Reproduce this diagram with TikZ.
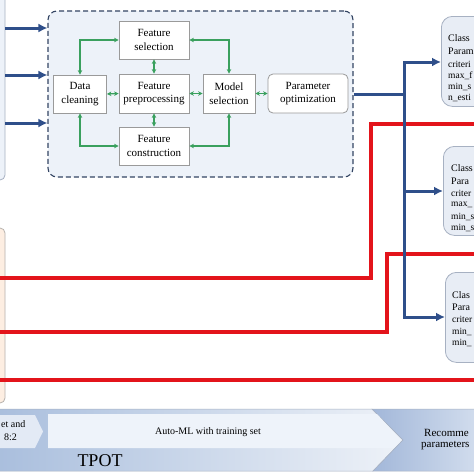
\documentclass[tikz,border=0pt]{standalone}
\usepackage{fontspec}
\setmainfont{Liberation Serif}
\usetikzlibrary{arrows.meta,calc}
\definecolor{bline}{HTML}{2F4F8A}
\definecolor{gline}{HTML}{3AA05E}
\definecolor{rline}{HTML}{E3141B}
\definecolor{dashfill}{HTML}{EDF2F9}
\definecolor{dashdraw}{HTML}{344563}
\definecolor{boxdraw}{HTML}{9A9A9A}
\definecolor{clsfill}{HTML}{E8EDF5}
\definecolor{clsdraw}{HTML}{A7B1C2}
\definecolor{orfill}{HTML}{FDEEE2}
\definecolor{ordraw}{HTML}{B7B2AD}
\definecolor{bandA}{HTML}{A9BEDD}
\definecolor{bandB}{HTML}{EEF2F8}
\definecolor{bandC}{HTML}{A2B7D9}
\definecolor{bandD}{HTML}{D3DEEE}
\definecolor{lightrect}{HTML}{EEF3FA}
\definecolor{chevA}{HTML}{E3EAF5}
\tikzset{
  txt/.style={font=\fontsize{11}{13.5}\selectfont, align=center, inner sep=0pt},
  stepbox/.style={draw=boxdraw, fill=white, line width=0.8pt, txt},
  roundbox/.style={stepbox, rounded corners=5pt},
  dashbox/.style={draw=dashdraw, fill=dashfill, dashed, dash pattern=on 5pt off 3pt, line width=1.1pt, rounded corners=9pt},
  clsbox/.style={draw=clsdraw, fill=clsfill, line width=0.8pt, rounded corners=11pt},
  sidebox/.style={draw=clsdraw, fill=dashfill, line width=0.8pt, rounded corners=5pt},
  orbox/.style={draw=ordraw, fill=orfill, line width=0.8pt, rounded corners=5pt},
  gconn/.style={draw=gline, line width=1.3pt, {Stealth[length=4.5pt,width=4.5pt]}-{Stealth[length=4.5pt,width=4.5pt]}},
  bconn/.style={draw=bline, line width=3pt},
  btip/.style={-{Latex[length=9pt,width=9pt]}},
  rconn/.style={draw=rline, line width=3.2pt},
  clsbig/.style={anchor=west, inner sep=0pt, font=\fontsize{10}{12}\selectfont},
  clssmall/.style={anchor=west, inner sep=0pt, font=\fontsize{9.5}{11}\selectfont},
  bandtxt/.style={inner sep=0pt, font=\fontsize{10}{12}\selectfont},
}
\begin{document}
\begin{tikzpicture}[x=1pt,y=-1pt]
\clip (0,0) rectangle (474,474);
\useasboundingbox (0,0) rectangle (474,474);
\fill[white] (0,0) rectangle (474,474);

% side boxes
\node[sidebox, minimum width=30pt, minimum height=196pt] (lb) at (-10,82) {};
\node[orbox, minimum width=30pt, minimum height=175pt] (ob) at (-10,315.5) {};

% dashed TPOT box
\node[dashbox, minimum width=305pt, minimum height=166pt] (dash) at (200.5,94) {};

% inner steps
\node[stepbox, minimum width=70pt, minimum height=38pt] (fs) at (154,40) {Feature\\selection};
\node[stepbox, minimum width=53pt, minimum height=38pt] (dc) at (80,94) {Data\\cleaning};
\node[stepbox, minimum width=70pt, minimum height=39pt] (fp) at (154,93.5) {Feature\\preprocessing};
\node[stepbox, minimum width=52pt, minimum height=39pt] (ms) at (229,93.5) {Model\\selection};
\node[roundbox, minimum width=80pt, minimum height=39pt] (po) at (308,93.5) {Parameter\\optimization};
\node[stepbox, minimum width=70pt, minimum height=38pt] (fc) at (154,146) {Feature\\construction};

% green connectors
\draw[gconn] (dc.east) -- (fp.west);
\draw[gconn] (fp.east) -- (ms.west);
\draw[gconn] (ms.east) -- (po.west);
\draw[gconn] (fs.south) -- (fp.north);
\draw[gconn] (fp.south) -- (fc.north);
\draw[gconn] (fs.west) -| (dc.north);
\draw[gconn] (fs.east) -| (ms.north);
\draw[gconn] (dc.south) |- (fc.west);
\draw[gconn] (ms.south) |- (fc.east);

% classifier boxes
\node[clsbox, minimum width=70pt, minimum height=90pt, anchor=north west] (r1) at (441,16) {};
\node[clsbox, minimum width=70pt, minimum height=89pt, anchor=north west] (r2) at (443,146) {};
\node[clsbox, minimum width=70pt, minimum height=90pt, anchor=north west] (r3) at (445,272) {};

\node[clsbig] (r1a) at (448,38) {Class};
\node[clsbig] (r1b) at (448,51.5) {Param};
\node[clssmall] (r1c) at (448,64) {criteri};
\node[clssmall] (r1d) at (448,75.5) {max\_f};
\node[clssmall] (r1e) at (448,86.5) {min\_s};
\node[clssmall] (r1f) at (448,97.5) {n\_esti};

\node[clsbig] (r2a) at (451,168) {Class};
\node[clsbig] (r2b) at (451,181.5) {Para};
\node[clssmall] (r2c) at (451,193.5) {criter};
\node[clssmall] (r2d) at (451,205) {max\_};
\node[clssmall] (r2e) at (451,216.5) {min\_s};
\node[clssmall] (r2f) at (451,228) {min\_s};

\node[clsbig] (r3a) at (452,295) {Clas};
\node[clsbig] (r3b) at (452,307.5) {Para};
\node[clssmall] (r3c) at (452,319.5) {criter};
\node[clssmall] (r3d) at (452,331.5) {min\_};
\node[clssmall] (r3e) at (452,343) {min\_};

% red connectors
\coordinate (ra) at (482,124);
\coordinate (rb) at (482,254);
\coordinate (rc) at (482,380);
\draw[rconn] (ob.west |- 0,278) -- (371,278) -- (371,124) -- (ra);
\draw[rconn] (ob.west |- 0,332) -- (387,332) -- (387,254) -- (rb);
\draw[rconn] (ob.west |- 0,380) -- (rc);

% blue connectors
\coordinate (y1) at (0,28);
\coordinate (y2) at (0,75);
\coordinate (y3) at (0,123);
\draw[bconn, btip] (lb.east |- y1) -- (dash.west |- y1);
\draw[bconn, btip] (lb.east |- y2) -- (dash.west |- y2);
\draw[bconn, btip] (lb.east |- y3) -- (dash.west |- y3);
\coordinate (tm) at (404,94);
\coordinate (t1) at (404,62);
\coordinate (t2) at (404,191);
\coordinate (t3) at (404,317);
\draw[bconn] (dash.east |- tm) -- (tm);
\draw[bconn, btip] (t3) -- (t1) -- (r1.west |- t1);
\draw[bconn, btip] (t1) -- (t3) -- (r3.west |- t3);
\draw[bconn, btip] (t2) -- (r2.west |- t2);

% bottom band
\shade[left color=bandA, right color=bandB, draw=clsdraw, line width=0.5pt]
  (-5,409) -- (372,409) -- (403,440) -- (373,471) -- (-5,471) -- cycle;
\shade[left color=bandC, right color=bandD, draw=clsdraw, line width=0.5pt]
  (372,409) -- (480,409) -- (480,471) -- (373,471) -- (403,440) -- cycle;
\fill[lightrect] (48,414) -- (377,414) -- (401,440) -- (394,448) -- (48,448) -- cycle;
\fill[chevA] (-5,415) -- (35,415) -- (43,431.5) -- (35,448) -- (-5,448) -- cycle;

\node[bandtxt, anchor=west] (s1) at (1,424) {et and};
\node[bandtxt, anchor=east] (s2) at (17,437) {8:2};
\node[bandtxt] (am) at (208,432) {Auto-ML with training set};
\node[inner sep=0pt, font=\fontsize{18}{20}\selectfont] (tp) at (100,461) {TPOT};
\node[inner sep=0pt, anchor=west, font=\fontsize{11}{13}\selectfont] (rc1) at (424,433) {Recomme};
\node[inner sep=0pt, anchor=west, font=\fontsize{11}{13}\selectfont] (rc2) at (421,446) {parameters};
\end{tikzpicture}
\end{document}
